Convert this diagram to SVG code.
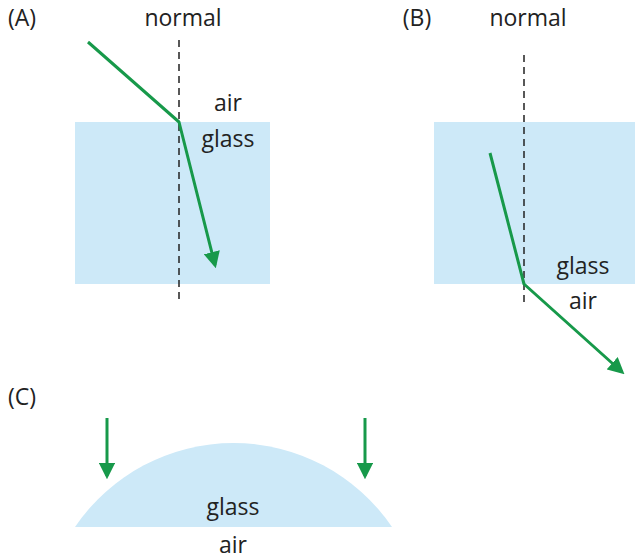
<svg xmlns="http://www.w3.org/2000/svg" width="635" height="560" viewBox="0 0 635 560">
<style>
text{font-family:"Open Sans","Liberation Sans",sans-serif;font-size:23px;fill:#222;text-anchor:middle}
.g{fill:#cde9f8}
.n{stroke:#222;stroke-width:1.5;stroke-dasharray:7,5;fill:none}
.r{stroke:#17994a;stroke-width:3;fill:none;stroke-linejoin:round}
</style>
<defs><marker id="ah" viewBox="0 0 10 10" refX="8" refY="5" markerWidth="5.5" markerHeight="5.5" orient="auto"><path d="M0,0L10,5L0,10z" fill="#17994a"/></marker></defs>
<rect id="glassA" class="g" x="75" y="122" width="195" height="162"/>
<rect id="glassB" class="g" x="434" y="122" width="201" height="162"/>
<path id="dome" class="g" d="M75,527 A191.5,191.5 0 0 1 392,527 Z"/>
<g id="connectors">
<line class="n" x1="179" y1="40" x2="179" y2="302"/>
<line class="n" x1="524" y1="55" x2="524" y2="302"/>
<polyline class="r" points="88,42 179,122 215,265" marker-end="url(#ah)"/>
<polyline class="r" points="490,153 524,284 622,372" marker-end="url(#ah)"/>
<line class="r" x1="107" y1="418" x2="107" y2="476" marker-end="url(#ah)"/>
<line class="r" x1="365" y1="418" x2="365" y2="476" marker-end="url(#ah)"/>
</g>
<g id="labels">
<text x="22" y="26">(A)</text>
<text x="183" y="26">normal</text>
<text x="228" y="111">air</text>
<text x="228" y="147">glass</text>
<text x="417" y="26">(B)</text>
<text x="528" y="26">normal</text>
<text x="583" y="274">glass</text>
<text x="583" y="309">air</text>
<text x="22" y="405">(C)</text>
<text x="233" y="515">glass</text>
<text x="233" y="553">air</text>
</g>
</svg>
